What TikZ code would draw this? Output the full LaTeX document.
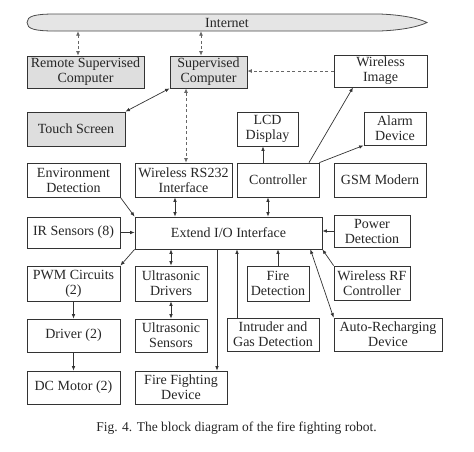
\documentclass[tikz,border=0pt]{standalone}
\usepackage{fontspec}
\setmainfont{Liberation Serif}
\usetikzlibrary{arrows.meta,calc}
\begin{document}
\begin{tikzpicture}[x=1pt,y=-1pt,
  box/.style={draw=black!80, line width=0.8pt, inner sep=0pt, align=center,
    font=\fontsize{14}{15}\selectfont, text=black!85},
  sz/.style 2 args={minimum width=#1pt, minimum height=#2pt},
  shadedbox/.style={box, fill=black!13},
  conn/.style={draw=black!80, line width=0.7pt},
  arr/.style={conn, -{Latex[length=4.5pt,width=3.6pt]}},
  darr/.style={conn, {Latex[length=4.5pt,width=3.6pt]}-{Latex[length=4.5pt,width=3.6pt]}},
  dashconn/.style={draw=black!60, line width=0.8pt, dash pattern=on 3pt off 2.5pt},
  ddarr/.style={dashconn, {Latex[length=4.5pt,width=4pt]}-{Latex[length=4.5pt,width=4pt]}},
  cloud/.style={draw=black!70, line width=0.8pt, fill=black!10},
]
\useasboundingbox (0,0) rectangle (474,451);

% Internet shape
\draw[cloud] (27,22.5) .. controls (27,16) and (35,14) .. (55,14) -- (380,14)
  .. controls (405,15) and (420,19) .. (427,22.5)
  .. controls (420,26) and (405,30) .. (380,31) -- (55,31)
  .. controls (35,31) and (27,29) .. cycle;
\node[inner sep=0pt, sz={400}{17}, font=\fontsize{14}{15}\selectfont, text=black!85] (internet) at (227,22.5) {Internet};

% boxes
\node[shadedbox, sz={117}{32}] (remote) at (85.5,72) {Remote Supervised\\Computer};
\node[shadedbox, sz={77}{32}] (superv) at (208.5,72) {Supervised\\Computer};
\node[box, sz={93}{32}] (wimage) at (380.5,71) {Wireless\\Image};
\node[shadedbox, sz={98}{34}] (touch) at (76,129) {Touch Screen};
\node[box, sz={61}{34}] (lcd) at (267.5,129) {LCD\\Display};
\node[box, sz={62}{33}] (alarm) at (395,128.5) {Alarm\\Device};
\node[box, sz={93}{34}] (envdet) at (73.5,180) {Environment\\Detection};
\node[box, sz={97}{34}] (rs232) at (183.5,180) {Wireless RS232\\Interface};
\node[box, sz={82}{34}] (ctrl) at (278,180) {Controller};
\node[box, sz={92}{34}] (gsm) at (380,180) {GSM Modern};
\node[box, sz={93}{31}] (ir) at (73.5,232.5) {IR Sensors (8)};
\node[box, sz={187}{32}] (extio) at (228.5,233) {Extend I/O Interface};
\node[box, sz={76}{32}] (power) at (372,231) {Power\\Detection};
\node[box, sz={93}{35}] (pwm) at (73.5,283.5) {PWM Circuits\\(2)};
\node[box, sz={72}{35}] (udrv) at (171,283.5) {Ultrasonic\\Drivers};
\node[box, sz={62}{35}] (fire) at (278,283.5) {Fire\\Detection};
\node[box, sz={76}{34}] (wrf) at (372,283) {Wireless RF\\Controller};
\node[box, sz={93}{33}] (driver) at (73.5,335.5) {Driver (2)};
\node[box, sz={72}{33}] (usens) at (171,335.5) {Ultrasonic\\Sensors};
\node[box, sz={92}{33}] (intr) at (273,334.5) {Intruder and\\Gas Detection};
\node[box, sz={108}{33}] (auto) at (388,334.5) {Auto-Recharging\\Device};
\node[box, sz={93}{33}] (dc) at (73.5,387.5) {DC Motor (2)};
\node[box, sz={92}{33}] (ffd) at (181,387.5) {Fire Fighting\\Device};

\node[font=\fontsize{13.5}{15}\selectfont, text=black!85] (caption) at (236.5,428) {Fig. 4. The block diagram of the fire fighting robot.};

% dashed links
\draw[ddarr] ([xshift=-7.5pt]remote.north |- internet.south) -- ([xshift=-7.5pt]remote.north);
\draw[ddarr] ([xshift=-7.5pt]superv.north |- internet.south) -- ([xshift=-7.5pt]superv.north);
\draw[dashconn, -{Latex[length=4.5pt,width=4pt]}] (wimage.west) -- (wimage.west -| superv.east);
\draw[ddarr] ([xshift=-22.5pt]superv.south) -- ([xshift=-22.5pt]superv.south |- rs232.north);

% solid links
\draw[darr] (superv.south west) -- (touch.north east);
\draw[arr] ([xshift=-15pt]ctrl.north) -- ([xshift=-15pt]ctrl.north |- lcd.south);
\draw[arr] ([xshift=31pt]ctrl.north) -- ([xshift=-27.5pt]wimage.south);
\draw[arr] (ctrl.north east) -- (alarm.south west);
\draw[darr] ([xshift=-8.5pt]rs232.south) -- ([xshift=-8.5pt]rs232.south |- extio.north);
\draw[darr] ([xshift=-10pt]ctrl.south) -- ([xshift=-10pt]ctrl.south |- extio.north);
\draw[arr] (envdet.south east) -- (extio.north west);
\draw[arr] (ir.east) -- (ir.east -| extio.west);
\draw[arr] (power.west) -- (power.west -| extio.east);
\draw[arr] (extio.south west) -- (pwm.north east);
\draw[darr] (udrv.north |- extio.south) -- (udrv.north);
\draw[darr] (udrv.south) -- (usens.north);
\draw[arr] (pwm.south) -- (driver.north);
\draw[arr] (driver.south) -- (dc.north);
\draw[arr] ([xshift=36pt]ffd.north |- extio.south) -- ([xshift=36pt]ffd.north);
\draw[arr] ([xshift=-36pt]intr.north) -- ([xshift=-36pt]intr.north |- extio.south);
\draw[arr] (fire.north) -- (fire.north |- extio.south);
\draw[darr] ([xshift=-12pt]extio.south east) -- (auto.north west);
\draw[arr] (wrf.north west) -- (extio.south east);
\end{tikzpicture}
\end{document}
